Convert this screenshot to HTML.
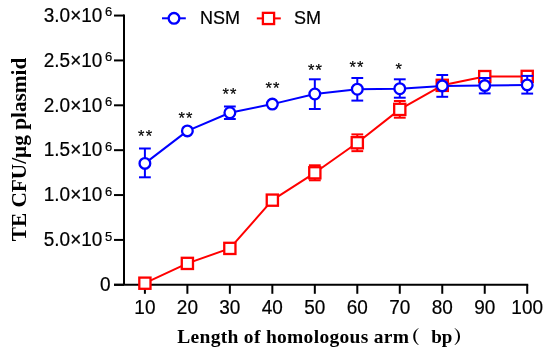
<!DOCTYPE html><html><head><meta charset="utf-8"><style>html,body{margin:0;padding:0;background:#fff;width:550px;height:353px;overflow:hidden}svg{display:block;filter:blur(0.35px)}</style></head><body>
<svg width="550" height="353" viewBox="0 0 550 353">
<rect width="550" height="353" fill="#fff"/>
<g stroke="#000" stroke-width="2" fill="none" stroke-linecap="butt">
<line x1="124" y1="14.55" x2="124" y2="284.80"/>
<line x1="114" y1="284.80" x2="528.22" y2="284.80"/>
<line x1="114" y1="284.80" x2="124" y2="284.80"/>
<line x1="114" y1="239.93" x2="124" y2="239.93"/>
<line x1="114" y1="195.05" x2="124" y2="195.05"/>
<line x1="114" y1="150.18" x2="124" y2="150.18"/>
<line x1="114" y1="105.30" x2="124" y2="105.30"/>
<line x1="114" y1="60.43" x2="124" y2="60.43"/>
<line x1="114" y1="15.55" x2="124" y2="15.55"/>
<line x1="144.90" y1="284.80" x2="144.90" y2="293.8"/>
<line x1="187.38" y1="284.80" x2="187.38" y2="293.8"/>
<line x1="229.86" y1="284.80" x2="229.86" y2="293.8"/>
<line x1="272.34" y1="284.80" x2="272.34" y2="293.8"/>
<line x1="314.82" y1="284.80" x2="314.82" y2="293.8"/>
<line x1="357.30" y1="284.80" x2="357.30" y2="293.8"/>
<line x1="399.78" y1="284.80" x2="399.78" y2="293.8"/>
<line x1="442.26" y1="284.80" x2="442.26" y2="293.8"/>
<line x1="484.74" y1="284.80" x2="484.74" y2="293.8"/>
<line x1="527.22" y1="284.80" x2="527.22" y2="293.8"/>
</g>
<g font-family="&quot;Liberation Sans&quot;, Arial, sans-serif" font-size="19" fill="#000" stroke="#000" stroke-width="0.2">
<text transform="translate(110.6,291.00) scale(1,1.1)" text-anchor="end">0</text>
<text transform="translate(102.4,246.12) scale(1,1.1)" text-anchor="end">5.0×10</text>
<text transform="translate(105.0,240.72) scale(1,1.0)" font-size="13">5</text>
<text transform="translate(102.4,201.25) scale(1,1.1)" text-anchor="end">1.0×10</text>
<text transform="translate(105.0,195.85) scale(1,1.0)" font-size="13">6</text>
<text transform="translate(102.4,156.38) scale(1,1.1)" text-anchor="end">1.5×10</text>
<text transform="translate(105.0,150.97) scale(1,1.0)" font-size="13">6</text>
<text transform="translate(102.4,111.50) scale(1,1.1)" text-anchor="end">2.0×10</text>
<text transform="translate(105.0,106.10) scale(1,1.0)" font-size="13">6</text>
<text transform="translate(102.4,66.63) scale(1,1.1)" text-anchor="end">2.5×10</text>
<text transform="translate(105.0,61.23) scale(1,1.0)" font-size="13">6</text>
<text transform="translate(102.4,21.75) scale(1,1.1)" text-anchor="end">3.0×10</text>
<text transform="translate(105.0,16.35) scale(1,1.0)" font-size="13">6</text>
<text transform="translate(144.90,313.90) scale(1,1.1)" text-anchor="middle">10</text>
<text transform="translate(187.38,313.90) scale(1,1.1)" text-anchor="middle">20</text>
<text transform="translate(229.86,313.90) scale(1,1.1)" text-anchor="middle">30</text>
<text transform="translate(272.34,313.90) scale(1,1.1)" text-anchor="middle">40</text>
<text transform="translate(314.82,313.90) scale(1,1.1)" text-anchor="middle">50</text>
<text transform="translate(357.30,313.90) scale(1,1.1)" text-anchor="middle">60</text>
<text transform="translate(399.78,313.90) scale(1,1.1)" text-anchor="middle">70</text>
<text transform="translate(442.26,313.90) scale(1,1.1)" text-anchor="middle">80</text>
<text transform="translate(484.74,313.90) scale(1,1.1)" text-anchor="middle">90</text>
<text transform="translate(527.22,313.90) scale(1,1.1)" text-anchor="middle">100</text>
</g>
<g font-family="&quot;Liberation Serif&quot;, &quot;Times New Roman&quot;, serif" font-weight="bold" font-size="20.1" fill="#000"><text x="177.3" y="342.6" font-size="19.5" letter-spacing="0.3">Length of homologous arm</text><text x="431.3" y="342.6" font-size="19">bp</text></g>
<g font-family="&quot;Liberation Serif&quot;, &quot;Noto Serif CJK SC&quot;, serif" font-weight="900" font-size="18" fill="#000"><text x="401.7" y="342.8">（</text><text x="453.6" y="342.8">）</text></g>
<text transform="translate(26.1,241.3) rotate(-90)" font-family="&quot;Liberation Serif&quot;, &quot;Times New Roman&quot;, serif" font-weight="bold" font-size="21.3" fill="#000">TE CFU/μg plasmid</text>
<polyline points="144.90,283.20 187.38,263.40 229.86,248.40 272.34,200.15 314.82,172.80 357.30,142.75 399.78,109.40 442.26,85.35 484.74,76.60 527.22,76.40" fill="none" stroke="#ff0000" stroke-width="2.0" stroke-linejoin="round"/>
<g stroke="#ff0000" stroke-width="2.0" fill="none"><line x1="314.82" y1="165.30" x2="314.82" y2="180.30"/><line x1="308.92" y1="165.30" x2="320.72" y2="165.30"/><line x1="308.92" y1="180.30" x2="320.72" y2="180.30"/></g>
<g stroke="#ff0000" stroke-width="2.0" fill="none"><line x1="357.30" y1="134.40" x2="357.30" y2="151.15"/><line x1="351.40" y1="134.40" x2="363.20" y2="134.40"/><line x1="351.40" y1="151.15" x2="363.20" y2="151.15"/></g>
<g stroke="#ff0000" stroke-width="2.0" fill="none"><line x1="399.78" y1="101.00" x2="399.78" y2="117.70"/><line x1="393.88" y1="101.00" x2="405.68" y2="101.00"/><line x1="393.88" y1="117.70" x2="405.68" y2="117.70"/></g>
<rect x="139.30" y="277.60" width="11.2" height="11.2" fill="#fff" stroke="#ff0000" stroke-width="2.3"/>
<rect x="181.78" y="257.80" width="11.2" height="11.2" fill="#fff" stroke="#ff0000" stroke-width="2.3"/>
<rect x="224.26" y="242.80" width="11.2" height="11.2" fill="#fff" stroke="#ff0000" stroke-width="2.3"/>
<rect x="266.74" y="194.55" width="11.2" height="11.2" fill="#fff" stroke="#ff0000" stroke-width="2.3"/>
<rect x="309.22" y="167.20" width="11.2" height="11.2" fill="#fff" stroke="#ff0000" stroke-width="2.3"/>
<rect x="351.70" y="137.15" width="11.2" height="11.2" fill="#fff" stroke="#ff0000" stroke-width="2.3"/>
<rect x="394.18" y="103.80" width="11.2" height="11.2" fill="#fff" stroke="#ff0000" stroke-width="2.3"/>
<rect x="436.66" y="79.75" width="11.2" height="11.2" fill="#fff" stroke="#ff0000" stroke-width="2.3"/>
<rect x="479.14" y="71.00" width="11.2" height="11.2" fill="#fff" stroke="#ff0000" stroke-width="2.3"/>
<rect x="521.62" y="70.80" width="11.2" height="11.2" fill="#fff" stroke="#ff0000" stroke-width="2.3"/>
<polyline points="144.90,163.40 187.38,130.90 229.86,112.75 272.34,104.10 314.82,94.00 357.30,89.20 399.78,88.70 442.26,85.90 484.74,85.60 527.22,84.90" fill="none" stroke="#0000ff" stroke-width="2.0" stroke-linejoin="round"/>
<g stroke="#0000ff" stroke-width="2.0" fill="none"><line x1="144.90" y1="148.50" x2="144.90" y2="177.30"/><line x1="139.00" y1="148.50" x2="150.80" y2="148.50"/><line x1="139.00" y1="177.30" x2="150.80" y2="177.30"/></g>
<g stroke="#0000ff" stroke-width="2.0" fill="none"><line x1="229.86" y1="106.50" x2="229.86" y2="119.00"/><line x1="223.96" y1="106.50" x2="235.76" y2="106.50"/><line x1="223.96" y1="119.00" x2="235.76" y2="119.00"/></g>
<g stroke="#0000ff" stroke-width="2.0" fill="none"><line x1="314.82" y1="79.30" x2="314.82" y2="109.00"/><line x1="308.92" y1="79.30" x2="320.72" y2="79.30"/><line x1="308.92" y1="109.00" x2="320.72" y2="109.00"/></g>
<g stroke="#0000ff" stroke-width="2.0" fill="none"><line x1="357.30" y1="78.00" x2="357.30" y2="100.60"/><line x1="351.40" y1="78.00" x2="363.20" y2="78.00"/><line x1="351.40" y1="100.60" x2="363.20" y2="100.60"/></g>
<g stroke="#0000ff" stroke-width="2.0" fill="none"><line x1="399.78" y1="79.30" x2="399.78" y2="97.70"/><line x1="393.88" y1="79.30" x2="405.68" y2="79.30"/><line x1="393.88" y1="97.70" x2="405.68" y2="97.70"/></g>
<g stroke="#0000ff" stroke-width="2.0" fill="none"><line x1="442.26" y1="75.00" x2="442.26" y2="96.80"/><line x1="436.36" y1="75.00" x2="448.16" y2="75.00"/><line x1="436.36" y1="96.80" x2="448.16" y2="96.80"/></g>
<g stroke="#0000ff" stroke-width="2.0" fill="none"><line x1="484.74" y1="78.00" x2="484.74" y2="93.40"/><line x1="478.84" y1="78.00" x2="490.64" y2="78.00"/><line x1="478.84" y1="93.40" x2="490.64" y2="93.40"/></g>
<g stroke="#0000ff" stroke-width="2.0" fill="none"><line x1="527.22" y1="75.90" x2="527.22" y2="93.60"/><line x1="521.32" y1="75.90" x2="533.12" y2="75.90"/><line x1="521.32" y1="93.60" x2="533.12" y2="93.60"/></g>
<circle cx="144.90" cy="163.40" r="5.35" fill="#fff" stroke="#0000ff" stroke-width="2.3"/>
<circle cx="187.38" cy="130.90" r="5.35" fill="#fff" stroke="#0000ff" stroke-width="2.3"/>
<circle cx="229.86" cy="112.75" r="5.35" fill="#fff" stroke="#0000ff" stroke-width="2.3"/>
<circle cx="272.34" cy="104.10" r="5.35" fill="#fff" stroke="#0000ff" stroke-width="2.3"/>
<circle cx="314.82" cy="94.00" r="5.35" fill="#fff" stroke="#0000ff" stroke-width="2.3"/>
<circle cx="357.30" cy="89.20" r="5.35" fill="#fff" stroke="#0000ff" stroke-width="2.3"/>
<circle cx="399.78" cy="88.70" r="5.35" fill="#fff" stroke="#0000ff" stroke-width="2.3"/>
<circle cx="442.26" cy="85.90" r="5.35" fill="#fff" stroke="#0000ff" stroke-width="2.3"/>
<circle cx="484.74" cy="85.60" r="5.35" fill="#fff" stroke="#0000ff" stroke-width="2.3"/>
<circle cx="527.22" cy="84.90" r="5.35" fill="#fff" stroke="#0000ff" stroke-width="2.3"/>
<g font-family="&quot;Liberation Sans&quot;, Arial, sans-serif" font-size="16.5" fill="#000" stroke="#000" stroke-width="0.2" text-anchor="middle">
<text x="145.67" y="141.80" letter-spacing="1.15">**</text>
<text x="186.07" y="124.10" letter-spacing="1.15">**</text>
<text x="230.07" y="100.10" letter-spacing="1.15">**</text>
<text x="272.97" y="94.10" letter-spacing="1.15">**</text>
<text x="315.47" y="76.10" letter-spacing="1.15">**</text>
<text x="357.07" y="72.80" letter-spacing="1.15">**</text>
<text x="398.75" y="75.10">*</text>
</g>
<line x1="162" y1="18.3" x2="185.8" y2="18.3" stroke="#0000ff" stroke-width="2.0"/><circle cx="174" cy="18.35" r="5.35" fill="#fff" stroke="#0000ff" stroke-width="2.3"/>
<text x="200" y="24.3" font-family="&quot;Liberation Sans&quot;, Arial, sans-serif" font-size="18" fill="#000" stroke="#000" stroke-width="0.2">NSM</text>
<line x1="256.8" y1="18.4" x2="280.8" y2="18.4" stroke="#ff0000" stroke-width="2.0"/><rect x="262.9" y="12.85" width="11.2" height="11.2" fill="#fff" stroke="#ff0000" stroke-width="2.3"/>
<text x="294" y="24.3" font-family="&quot;Liberation Sans&quot;, Arial, sans-serif" font-size="18" fill="#000" stroke="#000" stroke-width="0.2">SM</text>
</svg></body></html>
